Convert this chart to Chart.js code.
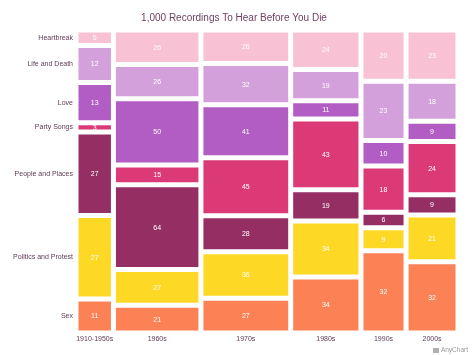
<!DOCTYPE html>
<html><head><meta charset="utf-8">
<script src="https://cdn.jsdelivr.net/npm/chart.js@4.4.0/dist/chart.umd.min.js"></script>
<style>
html,body{margin:0;padding:0;background:#fff;}
#wrap{position:relative;width:474px;height:355px;}
#credit{position:absolute;right:6px;bottom:2px;font:6.5px "Liberation Sans",Arial,sans-serif;color:#9a9a9a;line-height:7px;}
#credit span{display:inline-block;width:6px;height:5px;background:#b0b0b0;margin-right:2px;vertical-align:-1px;}
</style>
</head><body>
<div id="wrap"><canvas id="c" width="474" height="355"></canvas><div id="credit"><span></span>AnyChart</div></div>
<script>
// ---- data ----
const decades = ['1910-1950s', '1960s', '1970s', '1980s', '1990s', '2000s'];
const themes = ['Sex', 'Politics and Protest', 'People and Places', 'Party Songs', 'Love', 'Life and Death', 'Heartbreak'];
const sex        = [11, 21, 27, 34, 32, 32];
const politics   = [27, 27, 36, 34,  9, 21];
const people     = [27, 64, 28, 19,  6,  9];
const party      = [ 3, 15, 45, 43, 18, 24];
const love       = [13, 50, 41, 11, 10,  9];
const lifeDeath  = [12, 26, 32, 19, 23, 18];
const heartbreak = [ 5, 26, 26, 24, 20, 23];
const themeColors = ['#fc8256', '#fdd926', '#952e63', '#dc3a77', '#b25dc4', '#d4a0dc', '#f9c1d4'];

const seriesValues = [sex, politics, people, party, love, lifeDeath, heartbreak];
const totals = decades.map((_, i) => seriesValues.reduce((s, a) => s + a[i], 0));
const grand = totals.reduce((a, b) => a + b, 0);
const colStart = []; let acc = 0;
totals.forEach(t => { colStart.push(acc); acc += t; });
const colCenter = totals.map((t, i) => colStart[i] + t / 2);

// y-axis label positions: centres of the first column's segments
const firstColCenters = seriesValues.map((a, si) => {
  let below = 0; for (let k = 0; k < si; k++) below += seriesValues[k][0];
  return (below + a[0] / 2) / totals[0];
});

// ---- mosaic controller: bar widths taken from the x scale ----
const BarCtl = Chart.BarController || Chart.registry.getController('bar');
class MosaicController extends BarCtl {
  _calculateBarIndexPixels(index, ruler) {
    const iScale = this._cachedMeta.iScale;
    const l = iScale.getPixelForValue(colStart[index]);
    const r = iScale.getPixelForValue(colStart[index] + totals[index]);
    return { base: l, head: r, center: (l + r) / 2, size: r - l };
  }
}
MosaicController.id = 'mosaic';
MosaicController.defaults = BarCtl.defaults;
MosaicController.overrides = BarCtl.overrides;
Chart.register(MosaicController);

const datasets = themes.map((name, si) => ({
  type: 'mosaic',
  label: name,
  values: seriesValues[si],
  backgroundColor: themeColors[si],
  borderColor: '#ffffff',
  borderWidth: 2.5,
  borderSkipped: false,
  inflateAmount: 0,
  data: seriesValues[si].map((v, ci) => {
    let below = 0; for (let k = 0; k < si; k++) below += seriesValues[k][ci];
    return { x: colCenter[ci], y: [below / totals[ci], (below + v) / totals[ci]] };
  })
}));

const FONT = '"Liberation Sans", Arial, sans-serif';
const labelPlugin = {
  id: 'cellLabels',
  afterDatasetsDraw(chart) {
    const ctx = chart.ctx;
    ctx.save();
    ctx.font = '7px ' + FONT;
    ctx.fillStyle = '#ffffff';
    ctx.textAlign = 'center';
    ctx.textBaseline = 'middle';
    chart.data.datasets.forEach((ds, di) => {
      chart.getDatasetMeta(di).data.forEach((el, i) => {
        const p = el.getProps(['x', 'y', 'base'], true);
        ctx.fillText(String(ds.values[i]), p.x, (p.y + p.base) / 2 + 0.5);
      });
    });
    ctx.restore();
  }
};

new Chart(document.getElementById('c'), {
  type: 'bar',
  data: { datasets },
  plugins: [labelPlugin],
  options: {
    responsive: false,
    animation: false,
    layout: { autoPadding: false, padding: { left: 10, right: 16, top: 0, bottom: 0 } },
    plugins: {
      legend: { display: false },
      tooltip: { enabled: false },
      title: {
        display: true,
        text: '1,000 Recordings To Hear Before You Die',
        color: '#6e3f60',
        font: { family: FONT, size: 10, weight: 'normal' },
        padding: { top: 12, bottom: 6 }
      }
    },
    scales: {
      x: {
        type: 'linear', min: 0, max: grand, stacked: false, offset: false,
        grid: { display: false, drawTicks: false, offset: false },
        border: { display: false },
        afterBuildTicks: s => { s.ticks = colCenter.map(v => ({ value: v })); },
        afterFit: s => { s.height = 22; s.paddingLeft = 0; s.paddingRight = 0; },
        ticks: {
          autoSkip: false, maxRotation: 0, padding: 2,
          color: '#5e3a55', font: { family: FONT, size: 7 },
          callback: (v, i) => decades[i]
        }
      },
      y: {
        type: 'linear', min: 0, max: 1, stacked: false,
        grid: { display: false, drawTicks: false },
        border: { display: false },
        afterBuildTicks: s => { s.ticks = firstColCenters.map(v => ({ value: v })); },
        afterFit: s => { s.width = 66; s.paddingTop = 0; s.paddingBottom = 0; },
        ticks: {
          autoSkip: false, padding: 3,
          color: '#5e3a55', font: { family: FONT, size: 7 },
          callback: (v, i) => themes[i]
        }
      }
    }
  }
});
</script>
</body></html>
